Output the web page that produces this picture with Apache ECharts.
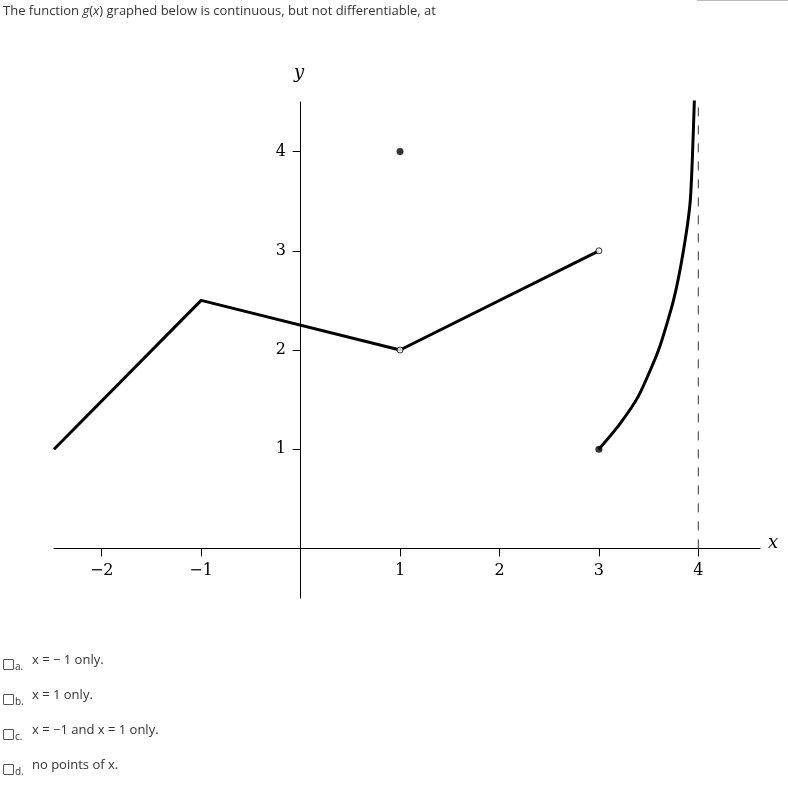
<!DOCTYPE html>
<html><head><meta charset="utf-8">
<script src="https://cdn.jsdelivr.net/npm/echarts@6/dist/echarts.min.js"></script>
<style>
body{margin:0;background:#fff;font-family:"Open Sans",sans-serif;color:#333;}
#chart{position:absolute;left:0;top:0;width:788px;height:789px;}
.t{position:absolute;font-size:13px;white-space:nowrap;}
.box{position:absolute;width:9px;height:9px;border:1px solid #555;border-radius:1px;}
.lt{position:absolute;font-size:10px;}
</style></head><body>
<div id="chart"></div>
<div class="t" style="left:3px;top:1px;">The function <i>g</i>(<i>x</i>) graphed below is continuous, but not differentiable, at</div>
<div style="position:absolute;left:697px;top:0;width:91px;height:1px;background:#bbb"></div>
<div id="opts"></div>
<script>
// piecewise linear part of g(x)
var lineX = [-2.48, -1, 1, 3];
var lineY = [1, 2.5, 2, 3];
// curve rising toward the asymptote x = 4
var curveX = [3, 3.2, 3.4, 3.6, 3.75, 3.85, 3.92, 3.96];
var curveY = [1, 1.24, 1.54, 2.0, 2.5, 3.0, 3.52, 4.52];
var openPts = [[1, 2], [3, 3]];
var filledPts = [[1, 4], [3, 1]];
var xTicks = [-2, -1, 1, 2, 3, 4];
var yTicks = [1, 2, 3, 4];
var asymptote = 4;
var choices = ['x = − 1 only.', 'x = 1 only.', 'x = −1 and x = 1 only.', 'no points of x.'];
var letters = ['a.', 'b.', 'c.', 'd.'];

// answer choices
var html = '';
choices.forEach(function (c, i) {
    var top = 650 + i * 35;
    html += '<div class="box" style="left:3px;top:' + (top + 9) + 'px"></div>';
    html += '<div class="lt" style="left:15px;top:' + (top + 9) + 'px">' + letters[i] + '</div>';
    html += '<div class="t" style="left:32px;top:' + top + 'px">' + c + '</div>';
});
document.getElementById('opts').innerHTML = html;

var chart = echarts.init(document.getElementById('chart'));
var serif = '"DejaVu Serif", "Liberation Serif", serif';
function fmt(v) { return v < 0 ? '−' + Math.abs(v) : String(v); }

chart.setOption({
    animation: false,
    grid: { left: 54, right: 28, top: 102, bottom: 191 },
    xAxis: {
        type: 'value', min: -2.48, max: 4.62,
        splitLine: { show: false },
        axisLine: { onZero: true, lineStyle: { color: '#000', width: 1 } },
        axisTick: { customValues: xTicks, length: 8, lineStyle: { color: '#000' } },
        // labels sit under the zero line, not under the grid edge
        axisLabel: { customValues: xTicks, formatter: fmt, color: '#000', fontFamily: serif, fontSize: 16, margin: -35 }
    },
    yAxis: {
        type: 'value', min: -0.5, max: 4.5,
        splitLine: { show: false },
        axisLine: { onZero: true, lineStyle: { color: '#000', width: 1 } },
        axisTick: { customValues: yTicks, length: 8, lineStyle: { color: '#000' } },
        axisLabel: { customValues: yTicks, formatter: fmt, color: '#000', fontFamily: serif, fontSize: 16, margin: -232 }
    },
    graphic: [
        { type: 'text', left: 294, top: 64, style: { text: 'y', font: 'italic 18px ' + serif, fill: '#000' } },
        { type: 'text', left: 768, top: 534, style: { text: 'x', font: 'italic 18px ' + serif, fill: '#000' } }
    ],
    series: [
        {
            type: 'line', data: lineX.map(function (x, i) { return [x, lineY[i]]; }),
            showSymbol: false, lineStyle: { color: '#000', width: 3 }, z: 3
        },
        {
            type: 'line', data: curveX.map(function (x, i) { return [x, curveY[i]]; }),
            smooth: 0.2, showSymbol: false, lineStyle: { color: '#000', width: 3 }, z: 3
        },
        {
            type: 'line', data: [[asymptote, 0], [asymptote, 4.5]],
            showSymbol: false, lineStyle: { color: '#555', width: 1.2, type: [9, 9] }, z: 2
        },
        {
            type: 'scatter', data: filledPts, symbolSize: 7,
            itemStyle: { color: '#000' }, z: 5
        },
        {
            type: 'scatter', data: openPts, symbolSize: 6,
            itemStyle: { color: '#fff', borderColor: '#000', borderWidth: 1 }, z: 5
        }
    ]
});
</script>
</body></html>
